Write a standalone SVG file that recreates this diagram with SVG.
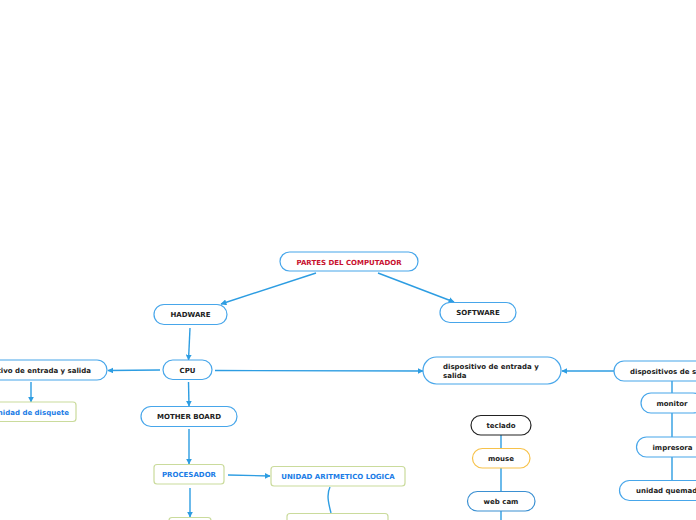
<svg xmlns="http://www.w3.org/2000/svg" width="696" height="520" viewBox="0 0 696 520">
<defs>
<style>
.n{fill:#fff;stroke:#47a6ea;stroke-width:1.2}
.g{fill:#fff;stroke:#cadb9c;stroke-width:1.2}
.t{font-family:"DejaVu Sans",Verdana,sans-serif;font-weight:bold;font-size:7px;fill:#222}
.b{fill:#1a7ce6}
.c{stroke:#2d9de2;stroke-width:1.4;fill:none}
</style>
<marker id="a" viewBox="0 0 10 10" refX="9" refY="5" markerWidth="6" markerHeight="6" orient="auto" markerUnits="userSpaceOnUse">
<path d="M0,0 L10,5 L0,10 z" fill="#2d9de2"/>
</marker>
</defs>
<rect width="696" height="520" fill="#fff"/>
<g id="connectors">
<line class="c" x1="316" y1="273" x2="221" y2="304" marker-end="url(#a)"/>
<line class="c" x1="378" y1="273" x2="454" y2="302" marker-end="url(#a)"/>
<line class="c" x1="190" y1="328" x2="188.5" y2="360" marker-end="url(#a)"/>
<line class="c" x1="160" y1="370" x2="108" y2="370.5" marker-end="url(#a)"/>
<line class="c" x1="31" y1="382" x2="31" y2="402" marker-end="url(#a)"/>
<line class="c" x1="188.5" y1="382" x2="189" y2="406" marker-end="url(#a)"/>
<line class="c" x1="189" y1="429" x2="189" y2="464" marker-end="url(#a)"/>
<line class="c" x1="228" y1="475" x2="270" y2="476" marker-end="url(#a)"/>
<line class="c" x1="190" y1="488" x2="190" y2="517" marker-end="url(#a)"/>
<path class="c" d="M330,487 C326,495 329,505 331,513"/>
<line class="c" x1="215" y1="370.5" x2="423" y2="371" marker-end="url(#a)"/>
<line class="c" x1="614" y1="371" x2="562" y2="371" marker-end="url(#a)"/>
<line class="c" x1="672" y1="381" x2="672" y2="393"/>
<line class="c" x1="672" y1="413" x2="672" y2="437"/>
<line class="c" x1="672" y1="457" x2="672" y2="480"/>
<line class="c" x1="501" y1="435" x2="501" y2="448"/>
<line class="c" x1="501" y1="468" x2="501" y2="491"/>
<line class="c" x1="501" y1="511" x2="501" y2="520"/>
</g>
<g id="partes"><rect class="n" x="280" y="252" width="138" height="19" rx="9.5"/><text class="t" x="349" y="264.5" text-anchor="middle" style="fill:#c8102e">PARTES DEL COMPUTADOR</text></g>
<g id="hadware"><rect class="n" x="154" y="304.5" width="73" height="20" rx="10"/><text class="t" x="190.5" y="317" text-anchor="middle">HADWARE</text></g>
<g id="software"><rect class="n" x="440" y="302.5" width="76" height="20" rx="10"/><text class="t" x="478" y="315" text-anchor="middle">SOFTWARE</text></g>
<g id="cpu"><rect class="n" x="163" y="360" width="49" height="19.5" rx="9.75"/><text class="t" x="187.5" y="372.5" text-anchor="middle">CPU</text></g>
<g id="dispositivo-izq"><rect class="n" x="-62" y="360" width="169" height="20" rx="10"/><text class="t" x="91" y="372.5" text-anchor="end">dispositivo de entrada y salida</text></g>
<g id="disquete"><rect class="g" x="-16" y="402" width="92" height="19.5" rx="3"/><text class="t b" x="69" y="414.5" text-anchor="end">unidad de disquete</text></g>
<g id="motherboard"><rect class="n" x="141" y="406.5" width="96" height="20" rx="10"/><text class="t" x="189" y="419" text-anchor="middle">MOTHER BOARD</text></g>
<g id="procesador"><rect class="g" x="154" y="464.5" width="70" height="19.5" rx="3"/><text class="t b" x="189" y="477" text-anchor="middle">PROCESADOR</text></g>
<g id="alu"><rect class="g" x="271" y="466.5" width="134" height="19.5" rx="3"/><text class="t b" x="338" y="479" text-anchor="middle">UNIDAD ARITMETICO LOGICA</text></g>
<g id="proc-hijo"><rect class="g" x="169" y="517.5" width="42" height="20" rx="3"/></g>
<g id="alu-hijo"><rect class="g" x="287" y="513.5" width="101" height="20" rx="3"/></g>
<g id="dispositivo-centro"><rect class="n" x="423" y="357" width="138" height="27" rx="13.5"/><text class="t" x="443" y="368.5">dispositivo de entrada y</text><text class="t" x="443" y="377.5">salida</text></g>
<g id="salida"><rect class="n" x="614" y="361" width="120" height="20" rx="10"/><text class="t" x="630" y="373.5">dispositivos de salida</text></g>
<g id="monitor"><rect class="n" x="641" y="393" width="62" height="20" rx="10"/><text class="t" x="672" y="405.5" text-anchor="middle">monitor</text></g>
<g id="impresora"><rect class="n" x="636.5" y="437" width="72" height="20" rx="10"/><text class="t" x="672.5" y="449.5" text-anchor="middle">impresora</text></g>
<g id="quemadora"><rect class="n" x="619.5" y="480.5" width="106" height="20" rx="10"/><text class="t" x="636" y="493">unidad quemadora</text></g>
<g id="teclado"><rect x="471" y="415.5" width="60" height="19.5" rx="9.75" fill="#fff" stroke="#222" stroke-width="1.2"/><text class="t" x="501" y="428" text-anchor="middle">teclado</text></g>
<g id="mouse"><rect x="472.5" y="448.5" width="57.5" height="19.5" rx="9.75" fill="#fff" stroke="#f7c24a" stroke-width="1.2"/><text class="t" x="501" y="461" text-anchor="middle">mouse</text></g>
<g id="webcam"><rect x="467.5" y="491.5" width="67.5" height="19.5" rx="9.75" fill="#fff" stroke="#3b90d2" stroke-width="1.2"/><text class="t" x="501" y="504" text-anchor="middle">web cam</text></g>
</svg>
